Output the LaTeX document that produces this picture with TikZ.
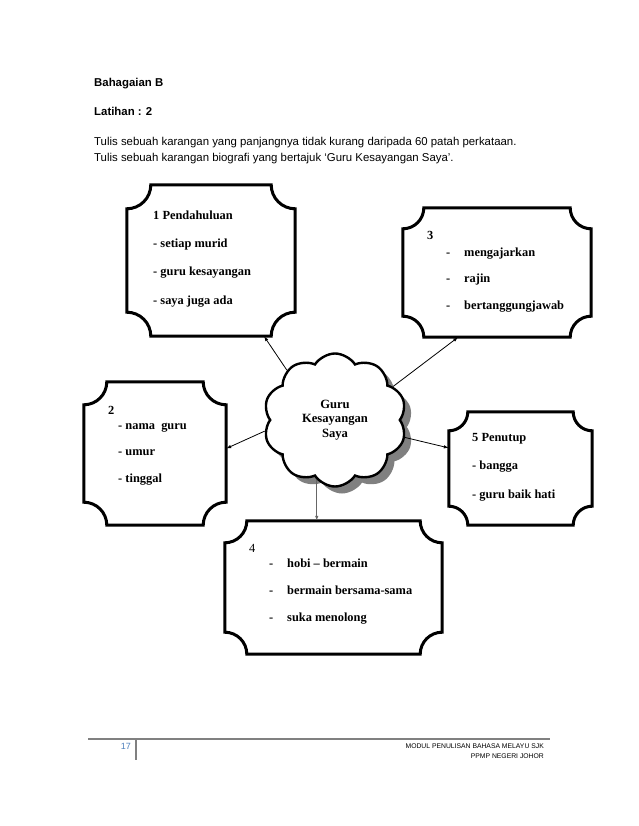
\documentclass[tikz,border=0pt]{standalone}
\usepackage{fontspec}
\setmainfont{Liberation Serif}
\newfontfamily\arialfont{Liberation Sans}
\definecolor{footgray}{RGB}{128,128,128}
\definecolor{footblue}{RGB}{79,129,189}
\usepackage{tikz}
\usetikzlibrary{arrows.meta, positioning, shapes.symbols, shadows, calc, fit}

% frame with scooped corners round a fitted node
\newcommand{\plaqueframe}[2]{%
  \draw[plaqueline] ($(#1.north west)+(#2,0)$) -- ($(#1.north east)+(-#2,0)$)
    arc[start angle=180, end angle=270, radius=#2]
    -- ($(#1.south east)+(0,#2)$)
    arc[start angle=90, end angle=180, radius=#2]
    -- ($(#1.south west)+(#2,0)$)
    arc[start angle=0, end angle=90, radius=#2]
    -- ($(#1.north west)+(0,-#2)$)
    arc[start angle=270, end angle=360, radius=#2]
    -- cycle;}
\newcommand{\dashpt}[1]{\makebox[18pt][l]{-}#1}

\begin{document}
\begin{tikzpicture}[x=1pt, y=1pt,
    plaque/.style={inner sep=0pt},
    plaqueline/.style={line width=3pt, black},
    % anchored at the baseline of the last line
    points/.style={font=\bfseries\fontsize{12.4}{#1}\selectfont, align=left,
                   anchor=base west, inner sep=0pt},
    head/.style={font=\arialfont\fontsize{11.4}{16}\selectfont, anchor=base west, inner sep=0pt},
    link/.style={-{Latex[length=5pt, width=3.5pt]}, line width=0.8pt},
]
    \useasboundingbox (0,0) rectangle (638,-826);

    % heading
    \node[head, font=\arialfont\bfseries\fontsize{11.4}{16}\selectfont] (bhg) at (94,-87) {Bahagaian B};
    \node[head, font=\arialfont\bfseries\fontsize{11.4}{16}\selectfont] (lat) at (94,-116) {Latihan : 2};
    \node[head] (arahan1) at (94,-146) {Tulis sebuah karangan yang panjangnya tidak kurang daripada 60 patah perkataan.};
    \node[head] (arahan2) at (94,-162) {Tulis sebuah karangan biografi yang bertajuk ‘Guru Kesayangan Saya’.};

    % boxes
    \node[plaque, fit={(127,-185) (295,-336)}] (pend) {};
    \node[plaque, fit={(403,-208) (591,-337)}] (isi3) {};
    \node[plaque, fit={(84,-382) (226,-525)}] (isi2) {};
    \node[plaque, fit={(449,-412) (592,-525)}] (tutup) {};
    \node[plaque, fit={(225,-521) (442,-654)}] (isi4) {};
    \plaqueframe{pend}{24}
    \plaqueframe{isi3}{21}
    \plaqueframe{isi2}{23}
    \plaqueframe{tutup}{19}
    \plaqueframe{isi4}{22}

    \node[points=28.3] (t1) at (153,-304) {
        1 Pendahuluan\\
        - setiap murid\\
        - guru kesayangan\\
        - saya juga ada
    };
    \node[points=26.5] (n3) at (427,-239) {3};
    \node[points=26.5] (t3) at (446,-309) {
        \dashpt{mengajarkan}\\
        \dashpt{rajin}\\
        \dashpt{bertanggungjawab}
    };
    \node[points=26.5] (n2) at (108,-414) {2};
    \node[points=26.5] (t2) at (118,-482) {
        - nama~ guru\\
        - umur\\
        - tinggal
    };
    \node[points=28.5] (t5) at (472,-498) {
        5 Penutup\\
        - bangga\\
        - guru baik hati
    };
    \node[points=27, font=\fontsize{12.4}{27}\selectfont] (n4) at (249,-552) {4};
    \node[points=27] (t4) at (269,-621) {
        \dashpt{hobi -- bermain}\\
        \dashpt{bermain bersama-sama}\\
        \dashpt{suka menolong}
    };

    % centre cloud
    \node[cloud, cloud puffs=10, cloud puff arc=115, cloud ignores aspect, draw, fill=white,
          line width=2.4pt, minimum width=143, minimum height=133, inner sep=0pt,
          align=center, font=\bfseries\fontsize{12.6}{14.5}\selectfont,
          drop shadow={shadow xshift=7pt, shadow yshift=-7pt, fill=footgray, opacity=1}]
          (guru) at (335,-420) {Guru\\Kesayangan\\Saya};

    \draw[link] (guru.134) -- (pend.-55);
    \draw[link] (guru.30) -- (isi3.-121);
    \draw[link] (guru.189) -- (isi2.4);
    \draw[link] (guru.-14) -- (tutup.164);
    \draw[link, black!60, line width=1.2pt] (guru.-107) -- (guru.-107 |- isi4.north);

    % footer
    \coordinate (fl) at (88,-739);
    \coordinate (fr) at (550,-739);
    \coordinate (fv) at (136,-739);
    \draw[footgray, line width=2pt] (fl) -- (fr);
    \draw[footgray, line width=2pt] (fv) -- ++(0,-21);
    \node[font=\arialfont\fontsize{9}{10}\selectfont, text=footblue, anchor=base east,
          inner sep=0pt] (pgno) at (131,-749) {17};
    \node[font=\arialfont\fontsize{6.8}{10}\selectfont, align=right, anchor=base east,
          inner sep=0pt] (modul) at (544,-758) {MODUL PENULISAN BAHASA MELAYU SJK\\PPMP NEGERI JOHOR};
\end{tikzpicture}
\end{document}
